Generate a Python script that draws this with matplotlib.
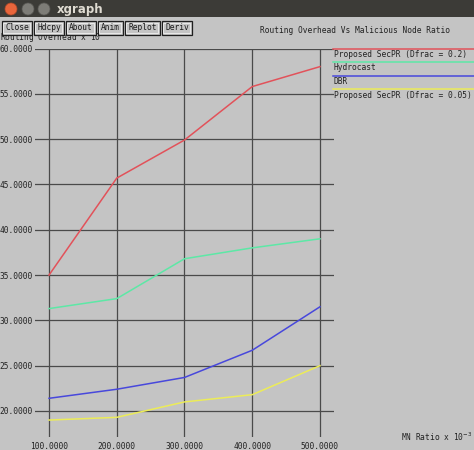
import matplotlib
matplotlib.use("Agg")
import matplotlib.pyplot as plt
from matplotlib.patches import Rectangle, Circle

# data
mn_ratio = [100, 200, 300, 400, 500]
secpr_02 = [35.0, 45.7, 49.9, 55.8, 58.0]
hydrocast = [31.3, 32.4, 36.8, 38.0, 39.0]
dbr = [21.4, 22.4, 23.7, 26.7, 31.5]
secpr_005 = [19.0, 19.3, 21.0, 21.8, 25.0]

labels = ["Proposed SecPR (Dfrac = 0.2)", "Hydrocast", "DBR", "Proposed SecPR (Dfrac = 0.05)"]
colors = ["#e2525a", "#5de8a6", "#4848dc", "#ecec58"]
series = [secpr_02, hydrocast, dbr, secpr_005]

buttons = ["Close", "Hdcpy", "About", "Anim", "Replot", "Deriv"]

W, H = 474, 450
bg = "#c4c4c4"
mono = "DejaVu Sans Mono"
fs = 5.7

fig = plt.figure(figsize=(W / 100, H / 100), dpi=100, facecolor=bg)

# plot area in pixels: x 35..334, y 48..437
ax = fig.add_axes([35 / W, 1 - 437 / H, (334 - 35) / W, (437 - 48.5) / H])
ax.set_facecolor("none")
for s in ax.spines.values():
    s.set_visible(False)
for ys, c in zip(series, colors):
    ax.plot(mn_ratio, ys, color=c, lw=1.1, zorder=3)
ax.set_xlim(79.3, 520.7)
ax.set_ylim(17.13, 60)
ax.set_xticks(mn_ratio)
ax.set_yticks(range(20, 61, 5))
ax.set_xticklabels([f"{v:.4f}" for v in mn_ratio], fontfamily=mono, fontsize=fs, color="#222222")
ax.set_yticklabels([f"{v:.4f}" for v in range(20, 61, 5)], fontfamily=mono, fontsize=fs, color="#222222")
ax.tick_params(length=0, pad=1.5)
ax.tick_params(axis="x", pad=3.5)
ax.grid(True, color="#4a4a4a", lw=0.9)
ax.set_axisbelow(True)

# overlay for the window decorations, titles and legend (pixel coords)
ov = fig.add_axes([0, 0, 1, 1], zorder=5)
ov.set_xlim(0, W)
ov.set_ylim(H, 0)
ov.axis("off")
ov.patch.set_alpha(0)

# y axis label, partly hidden under the buttons
ov.text(0, 38, "Routing Overhead x 10$^{-3}$", fontfamily=mono, fontsize=fs,
        color="#222222", va="center", ha="left", zorder=1)

# title bar
ov.add_patch(Rectangle((0, 0), W, 17, facecolor="#3c3b37", edgecolor="none", zorder=2))
ov.add_patch(Circle((11, 9), 6, facecolor="#e9653b", edgecolor="#b04a2a", lw=0.5, zorder=3))
ov.add_patch(Circle((28, 9), 6, facecolor="#7d7c77", edgecolor="#5a5955", lw=0.5, zorder=3))
ov.add_patch(Circle((44, 9), 6, facecolor="#7d7c77", edgecolor="#5a5955", lw=0.5, zorder=3))
ov.text(57, 9, "xgraph", color="#dfdbd2", fontsize=8.5, fontweight="bold",
        va="center", ha="left", zorder=3)

# buttons
bx = 2
for b in buttons:
    w = len(b) * 5 + 5
    ov.add_patch(Rectangle((bx, 21), w, 13.5, facecolor=bg, edgecolor="#202020", lw=0.9, zorder=2))
    ov.add_patch(Rectangle((bx + 1.5, 22.5), w - 3, 10.5, facecolor="none", edgecolor="#f0f0f0", lw=0.6, zorder=2))
    ov.text(bx + w / 2, 27.8, b, fontfamily=mono, fontsize=fs, color="#1a1a1a",
            va="center", ha="center", zorder=3)
    bx += w + 2

ov.text(260, 30.5, "Routing Overhead Vs Malicious Node Ratio", fontfamily=mono, fontsize=fs,
        color="#222222", va="center", ha="left")

# legend
for i, (lab, c) in enumerate(zip(labels, colors)):
    ly = 48.5 + i * 13.5
    ov.plot([333, W], [ly, ly], color=c, lw=1.1)
    ov.text(334, ly + 6, lab, fontfamily=mono, fontsize=fs, color="#222222",
            va="center", ha="left")

ov.text(401, 437, "MN Ratio x 10$^{-3}$", fontfamily=mono, fontsize=fs,
        color="#222222", va="center", ha="left")

fig.savefig("out.png", dpi=100, facecolor=bg)
